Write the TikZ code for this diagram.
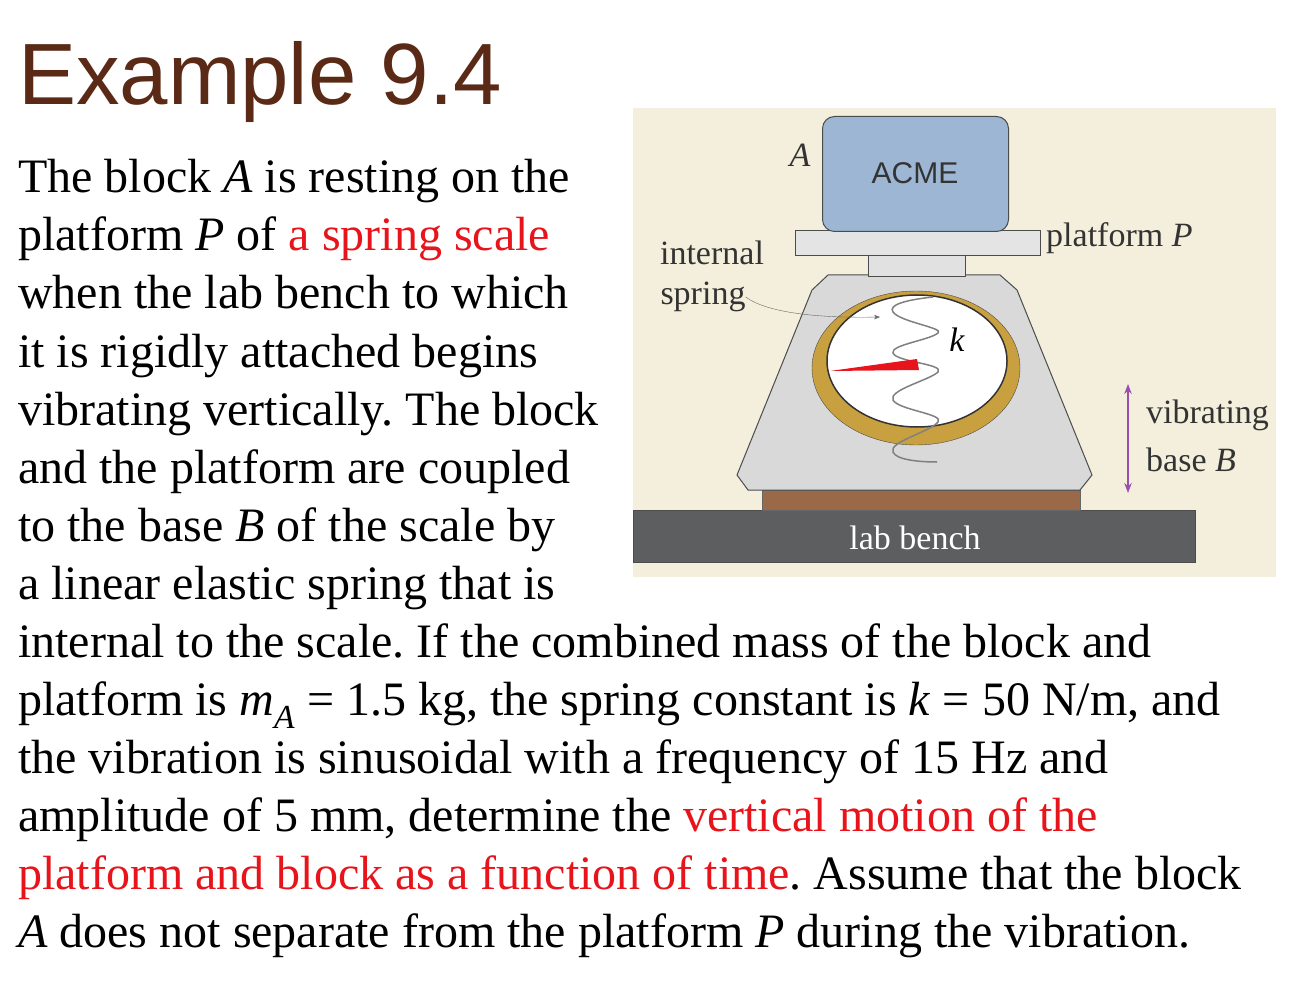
\documentclass[tikz,border=0pt]{standalone}
\usepackage{fontspec}
\setmainfont{Liberation Serif}
\newfontfamily\titlefont{Liberation Sans}
\usetikzlibrary{arrows.meta}
\frenchspacing
\definecolor{tred}{HTML}{E8141B}
\definecolor{ttl}{HTML}{5A2A17}
\definecolor{cream}{HTML}{F3EFDC}
\definecolor{blockc}{HTML}{9DB6D3}
\definecolor{bodyc}{HTML}{D9D9DA}
\definecolor{gold}{HTML}{C9A040}
\definecolor{benchc}{HTML}{5D5E60}
\definecolor{ringc}{HTML}{9A6A48}
\definecolor{purp}{HTML}{9A4FB0}
\tikzset{
  txt/.style={anchor=base west, inner sep=0pt, font=\frenchspacing\fontsize{48}{56}\selectfont},
  lbl/.style={inner sep=0pt, font=\fontsize{34}{38}\selectfont, text=black!80},
  part/.style={draw=black!70, line width=1pt}
}
\begin{document}
\begin{tikzpicture}[x=1pt,y=-1pt]
\useasboundingbox (0,0) rectangle (1296,1000);
\fill[white] (0,0) rectangle (1296,1000);
\node[anchor=base west, inner sep=0pt, text=ttl, font=\titlefont\fontsize{87}{95}\selectfont] (title) at (18,105) {Example 9.4};
% figure
\fill[cream] (633,108) rectangle (1276,577);
\node[part, fill=benchc, minimum width=562pt, minimum height=52pt, anchor=north west] (bench) at (633,510) {};
\node[text=white, font=\fontsize{34}{38}\selectfont, inner sep=0pt] (lb) at (915,538) {lab bench};
\fill[ringc, draw=black!60] (762,490) rectangle (1080,510);
\fill[bodyc, draw=black!70, line width=1pt] (828,275) -- (1000,275) -- (1017,290) -- (1092,475) -- (1080,490) -- (748,490) -- (737,475) -- (812,290) -- cycle;
\node[part, fill=bodyc!80, minimum width=97pt, minimum height=22pt, anchor=north west] (col) at (868,254) {};
\node[part, fill=bodyc!70, minimum width=245pt, minimum height=25pt, anchor=north west] (plat) at (795,230) {};
\node[part, fill=blockc, rounded corners=12pt, minimum width=186pt, minimum height=115pt, anchor=north west] (blk) at (822,116) {};
\node[font=\titlefont\fontsize{30}{34}\selectfont, text=black!80] (acme) at (915,173) {ACME};
% dial
\fill[gold, draw=black!70] (916,368) ellipse (104pt and 77pt);
\fill[white, draw=black!80, line width=1.5pt] (917,361) ellipse (90pt and 66pt);
\draw[black!50, line width=1.5pt] (933,297) .. controls (905,300) and (888,305) .. (893,312) .. controls (900,322) and (945,328) .. (938,333) .. controls (930,340) and (890,345) .. (893,353) .. controls (896,362) and (945,364) .. (938,372) .. controls (930,380) and (888,390) .. (893,400) .. controls (898,410) and (945,414) .. (938,422) .. controls (930,432) and (888,442) .. (893,452) .. controls (896,460) and (920,462) .. (937,462);
\fill[tred] (830,371) -- (917,359) -- (919,370) -- cycle;
\node[font=\itshape\fontsize{34}{38}\selectfont] (k) at (957,340) {k};
\node[lbl] (int) at (712,253) {internal};
\node[lbl] (spr) at (703,297) {spring};
\coordinate (sp) at (880,317);
\draw[black!60, -{Stealth[length=6pt]}] (spr.east) .. controls (770,315) and (830,318) .. (sp);
\node[font=\itshape\fontsize{34}{38}\selectfont, text=black!80] (a) at (800,155) {A};
\node[lbl, anchor=west] (pp) at (1046,238) {platform \textit{P}};
\node[lbl, anchor=west] (vib) at (1146,415) {vibrating};
\node[lbl, anchor=west] (bb) at (1146,460) {base \textit{B}};
\coordinate (ua) at (1128,384);
\coordinate (da) at (1128,493);
\draw[purp, line width=2pt, {Stealth[length=10pt]}-{Stealth[length=10pt]}] (ua) -- (da);
% text
\node[txt] (l1) at (18,193) {The block \textit{A} is resting on the};
\node[txt] (l2) at (18,251) {platform \textit{P} of \textcolor{tred}{a spring scale}};
\node[txt] (l3) at (18,309) {when the lab bench to which};
\node[txt] (l4) at (18,367) {it is rigidly attached begins};
\node[txt] (l5) at (18,425) {vibrating vertically. The block};
\node[txt] (l6) at (18,483) {and the platform are coupled};
\node[txt] (l7) at (18,541) {to the base \textit{B} of the scale by};
\node[txt] (l8) at (18,599) {a linear elastic spring that is};
\node[txt] (l9) at (18,657) {internal to the scale. If the combined mass of the block and};
\node[txt] (l10) at (18,715) {platform is \textit{m}\textsubscript{\textit{A}} = 1.5 kg, the spring constant is \textit{k} = 50 N/m, and};
\node[txt] (l11) at (18,773) {the vibration is sinusoidal with a frequency of 15 Hz and};
\node[txt] (l12) at (18,831) {amplitude of 5 mm, determine the \textcolor{tred}{vertical motion of the}};
\node[txt] (l13) at (18,889) {\textcolor{tred}{platform and block as a function of time}. Assume that the block};
\node[txt] (l14) at (18,947) {\textit{A} does not separate from the platform \textit{P} during the vibration.};
\end{tikzpicture}
\end{document}
